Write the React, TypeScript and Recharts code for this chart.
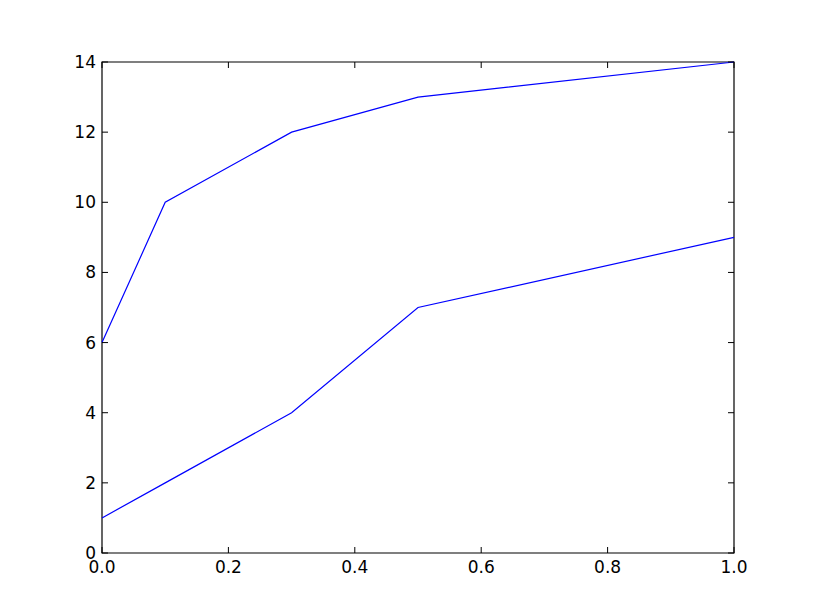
import { LineChart, Line, XAxis, YAxis, ReferenceArea } from "recharts";

const xValues = [0, 0.1, 0.3, 0.5, 1.0];
const upperSeries = [6, 10, 12, 13, 14];
const lowerSeries = [1, 2, 4, 7, 9];
const xTicks = [0, 0.2, 0.4, 0.6, 0.8, 1.0];
const yTicks = [0, 2, 4, 6, 8, 10, 12, 14];

const chartData = xValues.map((x, i) => ({
  x,
  upper: upperSeries[i],
  lower: lowerSeries[i],
}));

// plot box edges in px
const LEFT = 102;
const RIGHT = 734;
const TOP = 62;
const BOTTOM = 553;
const TICK = 6;
const FONT = "'DejaVu Sans', sans-serif";

const XTick = (props: any) => {
  const c = props.payload.coordinate;
  return (
    <g>
      <line x1={c} x2={c} y1={BOTTOM} y2={BOTTOM - TICK} stroke="#000" />
      <line x1={c} x2={c} y1={TOP} y2={TOP + TICK} stroke="#000" />
      <text x={c} y={573} textAnchor="middle" fontSize={17} fontFamily={FONT} fill="#000">
        {Number(props.payload.value).toFixed(1)}
      </text>
    </g>
  );
};

const YTick = (props: any) => {
  const c = props.payload.coordinate;
  return (
    <g>
      <line x1={LEFT} x2={LEFT + TICK} y1={c} y2={c} stroke="#000" />
      <line x1={RIGHT} x2={RIGHT - TICK} y1={c} y2={c} stroke="#000" />
      <text x={96} y={c + 6} textAnchor="end" fontSize={17} fontFamily={FONT} fill="#000">
        {props.payload.value}
      </text>
    </g>
  );
};

export default function App() {
  return (
    <div style={{ position: "absolute", left: 0, top: 0, background: "#fff" }}>
      <LineChart
        width={815}
        height={615}
        data={chartData}
        margin={{ top: TOP, right: 815 - RIGHT, bottom: 0, left: 0 }}
      >
        <XAxis
          dataKey="x"
          type="number"
          domain={[0, 1]}
          ticks={xTicks}
          height={615 - BOTTOM}
          axisLine={false}
          tickLine={false}
          tick={<XTick />}
          interval={0}
        />
        <YAxis
          type="number"
          domain={[0, 14]}
          ticks={yTicks}
          width={LEFT}
          axisLine={false}
          tickLine={false}
          tick={<YTick />}
          interval={0}
        />
        <ReferenceArea x1={0} x2={1} y1={0} y2={14} fill="none" stroke="#000" strokeWidth={1.2} />
        <Line dataKey="upper" stroke="#0000ff" strokeWidth={1.2} dot={false} isAnimationActive={false} />
        <Line dataKey="lower" stroke="#0000ff" strokeWidth={1.2} dot={false} isAnimationActive={false} />
      </LineChart>
    </div>
  );
}
